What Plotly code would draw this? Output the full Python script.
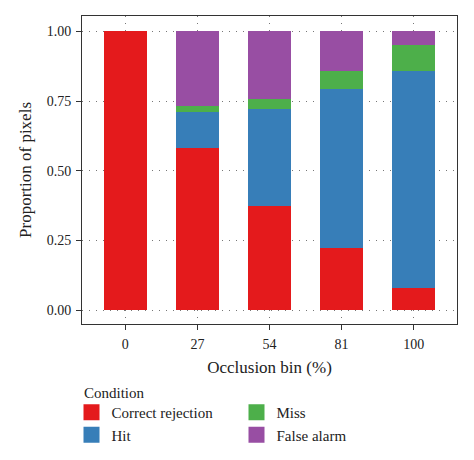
import plotly.graph_objects as go

# occlusion bins and stacked proportions
bins = ['0', '27', '54', '81', '100']
correct_rejection = [1.000, 0.580, 0.375, 0.222, 0.079]
hit = [0.000, 0.129, 0.346, 0.571, 0.779]
miss = [0.000, 0.023, 0.038, 0.065, 0.092]
false_alarm = [0.000, 0.268, 0.241, 0.142, 0.050]

y_ticks = [0, 0.25, 0.5, 0.75, 1.0]
y_labels = ['0.00', '0.25', '0.50', '0.75', '1.00']

series = [
    ('Correct rejection', correct_rejection, '#E41A1C', 1),
    ('Hit', hit, '#377EB8', 3),
    ('Miss', miss, '#4DAF4A', 2),
    ('False alarm', false_alarm, '#984EA3', 4),
]

fig = go.Figure()
for name, vals, color, rank in series:
    fig.add_trace(go.Bar(
        x=bins, y=vals, name=name, width=0.6,
        marker=dict(color=color, line=dict(width=0)),
        showlegend=False, legendgroup=name
    ))
    # bigger square keys for the legend
    fig.add_trace(go.Scatter(
        x=[None], y=[None], mode='markers', name=name,
        marker=dict(symbol='square', size=16, color=color, line=dict(width=0)),
        legendgroup=name, legendrank=rank
    ))

serif = 'Liberation Serif'
# page body adds an 8px margin, so the margins are 8px smaller on the left/top
fig.update_layout(
    barmode='stack',
    width=474, height=460,
    margin=dict(l=74, r=25, t=8, b=144),
    paper_bgcolor='white', plot_bgcolor='white',
    font=dict(family=serif, size=14, color='#222'),
    xaxis=dict(
        type='category', range=[-0.6, 4.6], automargin=False,
        title=dict(text='Occlusion bin (%)', standoff=10),
        showgrid=True, gridcolor='#777', griddash='1px,6px', gridwidth=1,
        showline=True, mirror=True, linecolor='#333', linewidth=1,
        ticks='outside', ticklen=5, tickcolor='#333', ticklabelstandoff=2
    ),
    yaxis=dict(
        range=[-0.05, 1.055], tickvals=y_ticks, ticktext=y_labels,
        automargin=False,
        title=dict(text='Proportion of pixels', standoff=10),
        showgrid=True, gridcolor='#777', griddash='1px,6px', gridwidth=1,
        zeroline=False,
        showline=True, mirror=True, linecolor='#333', linewidth=1,
        ticks='outside', ticklen=5, tickcolor='#333', ticklabelstandoff=2
    ),
    legend=dict(
        orientation='h', x=-0.028, xanchor='left', y=-0.234, yanchor='top',
        traceorder='normal', entrywidth=120, entrywidthmode='pixels',
        itemsizing='trace', tracegroupgap=0,
        font=dict(family=serif, size=15)
    ),
    annotations=[dict(
        text='Condition', xref='paper', yref='paper', x=0, y=-0.224,
        xanchor='left', yanchor='middle', showarrow=False,
        font=dict(family=serif, size=15)
    )],
    showlegend=True
)

fig.write_html('out.html')
